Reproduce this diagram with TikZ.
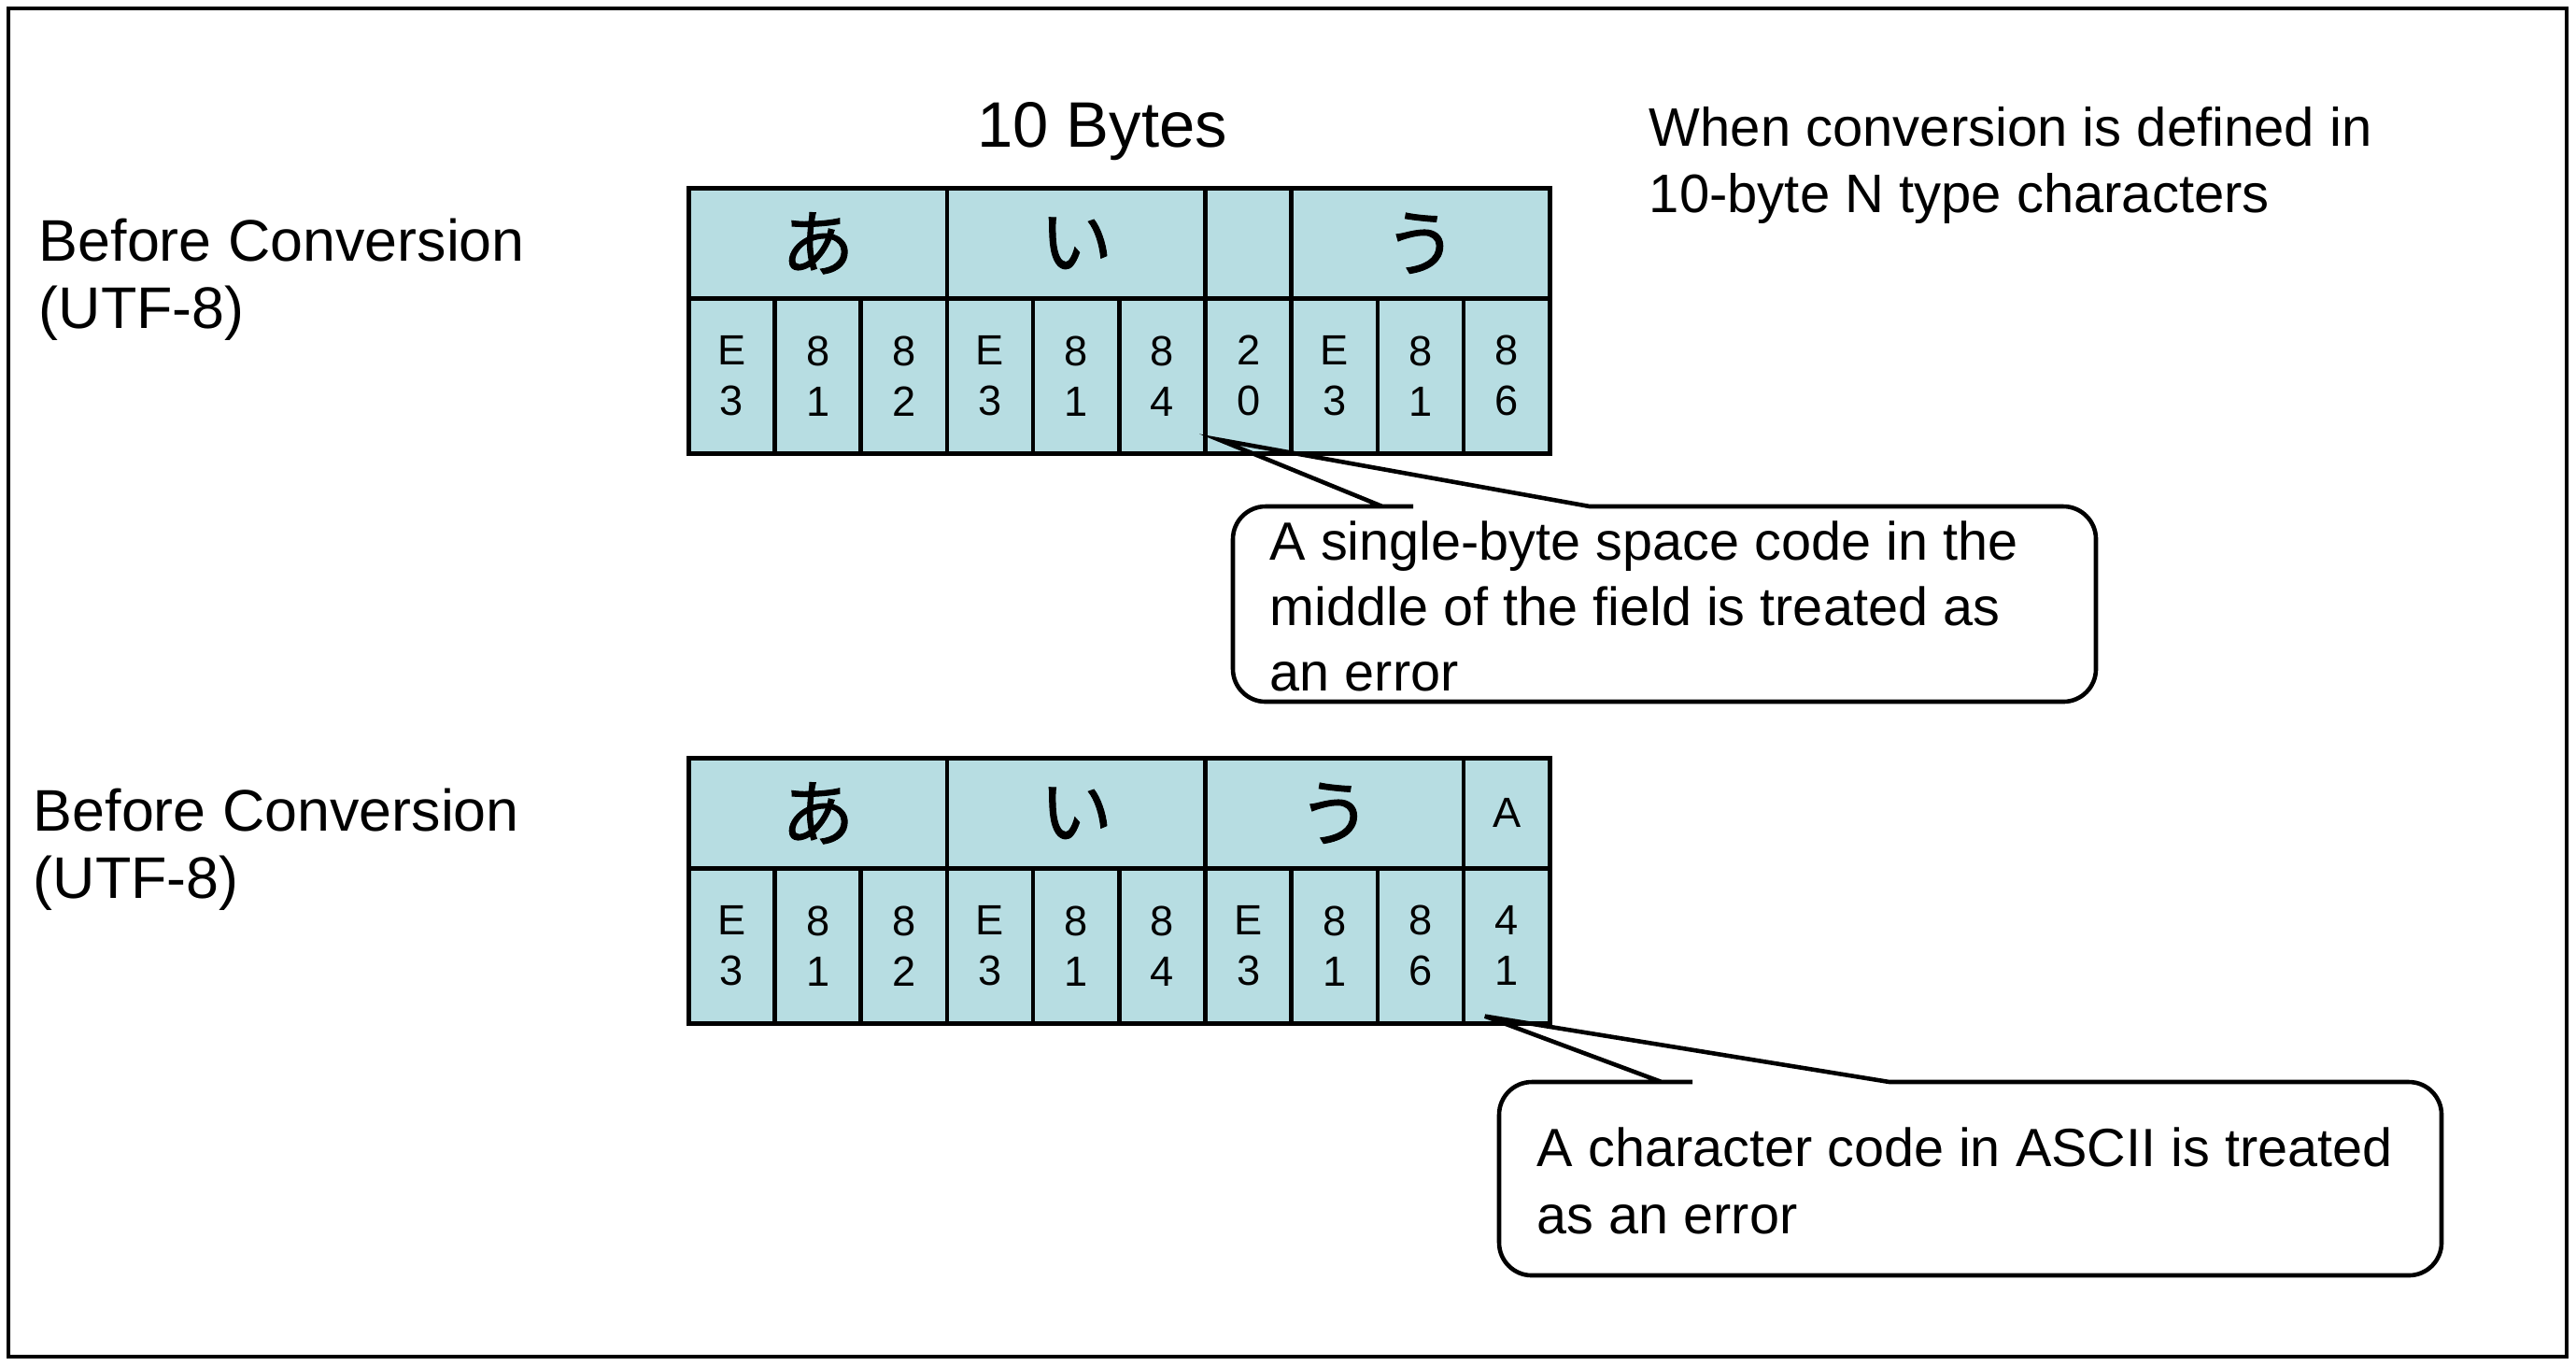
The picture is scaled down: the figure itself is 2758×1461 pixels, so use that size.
\documentclass[tikz,border=0pt]{standalone}
\usepackage{fontspec}
\setmainfont{Liberation Sans}
\newfontfamily\jpfont[FakeBold=1.2]{Noto Sans CJK JP}
\usetikzlibrary{calc}
\definecolor{cellfill}{RGB}{183,221,226}
\begin{document}
\begin{tikzpicture}[x=0.25pt,y=-0.25pt,
  frame/.style={draw=black,line width=1.1pt},
  hcell/.style={draw=black,line width=1.15pt,fill=cellfill,inner sep=0pt,anchor=north west,minimum height=29.5pt},
  bcell/.style={draw=black,line width=1.15pt,fill=cellfill,inner sep=0pt,anchor=north west,minimum width=23.05pt,minimum height=41.5pt,align=center,font=\fontsize{11.3}{13.5}\selectfont},
  jp/.style={font=\jpfont\fontsize{19.5}{22}\selectfont},
  sidelabel/.style={inner sep=0pt,anchor=west,align=left,font=\fontsize{15.7}{18}\selectfont},
  note/.style={inner sep=0pt,anchor=west,align=left,font=\fontsize{14.4}{17.5}\selectfont},
  callout/.style={draw=black,line width=1.15pt,line join=miter}
]
\useasboundingbox (0,0) rectangle (2758,1461);
\draw[frame] (9,9) rectangle (2748,1452);

% ---- top table ----
\node[hcell,jp,minimum width=69.15pt] (ta) at (735,199) {あ};
\node[hcell,jp,minimum width=69.15pt] (ti) at (1011.6,199) {い};
\node[hcell,minimum width=23.05pt] (tsp) at (1288.2,199) {};
\node[hcell,jp,minimum width=69.15pt] (tu) at (1380.4,199) {う};
\foreach \i/\a/\b in {0/E/3,1/8/1,2/8/2,3/E/3,4/8/1,5/8/4,6/2/0,7/E/3,8/8/1,9/8/6}
  \node[bcell] (tb\i) at ({735+92.2*\i},317) {\a\\\b};

% ---- bottom table ----
\node[hcell,jp,minimum width=69.15pt] (ba) at (735,809) {あ};
\node[hcell,jp,minimum width=69.15pt] (bi) at (1011.6,809) {い};
\node[hcell,jp,minimum width=69.15pt] (bu) at (1288.2,809) {う};
\node[hcell,minimum width=23.05pt,font=\fontsize{11.3}{13.5}\selectfont] (bA) at (1564.8,809) {A};
\foreach \i/\a/\b in {0/E/3,1/8/1,2/8/2,3/E/3,4/8/1,5/8/4,6/E/3,7/8/1,8/8/6,9/4/1}
  \node[bcell] (bb\i) at ({735+92.2*\i},927) {\a\\\b};

% ---- texts ----
\node[sidelabel] (lab1) at (41,299) {Before Conversion\\(UTF-8)};
\node[sidelabel] (lab2) at (35,909) {Before Conversion\\(UTF-8)};
\node[inner sep=0pt,font=\fontsize{17.2}{20}\selectfont] (bytes) at (1180,141) {10 Bytes};
\node[inner sep=0pt,anchor=west,align=left,font=\fontsize{14.5}{17.75}\selectfont] (cond) at (1765,177) {When conversion is defined in\\10-byte N type characters};

% ---- callout 1 ----
\coordinate (tip1) at ($(tb6.south west)+(17,-17)$);
\coordinate (a1) at (1480,542);
\coordinate (a1x) at (1478,542);
\coordinate (b1) at (1702,542);
\coordinate (b1x) at (1704,542);
\coordinate (tr1) at (2244,542);
\coordinate (br1) at (2244,751);
\coordinate (bl1) at (1320,751);
\coordinate (tl1) at (1320,542);
\draw[callout] (a1) -- (tip1) -- (b1) -- (b1x) {[rounded corners=8.75pt] -- (tr1) -- (br1) -- (bl1) -- (tl1) -- (a1x)} -- cycle;
\node[note] (n1) at (1359,649) {A single-byte space code in the\\middle of the field is treated as\\an error};

% ---- callout 2 ----
\coordinate (tip2) at ($(bb9.south west)+(25,-10)$);
\coordinate (a2) at (1779,1158);
\coordinate (a2x) at (1777,1158);
\coordinate (b2) at (2023,1158);
\coordinate (b2x) at (2025,1158);
\coordinate (tr2) at (2614,1158);
\coordinate (br2) at (2614,1365);
\coordinate (bl2) at (1605,1365);
\coordinate (tl2) at (1605,1158);
\draw[callout] (a2) -- (tip2) -- (b2) -- (b2x) {[rounded corners=8.75pt] -- (tr2) -- (br2) -- (bl2) -- (tl2) -- (a2x)} -- cycle;
\node[note,font=\fontsize{14.4}{18}\selectfont] (n2) at (1645,1264) {A character code in ASCII is treated\\as an error};
\end{tikzpicture}
\end{document}
